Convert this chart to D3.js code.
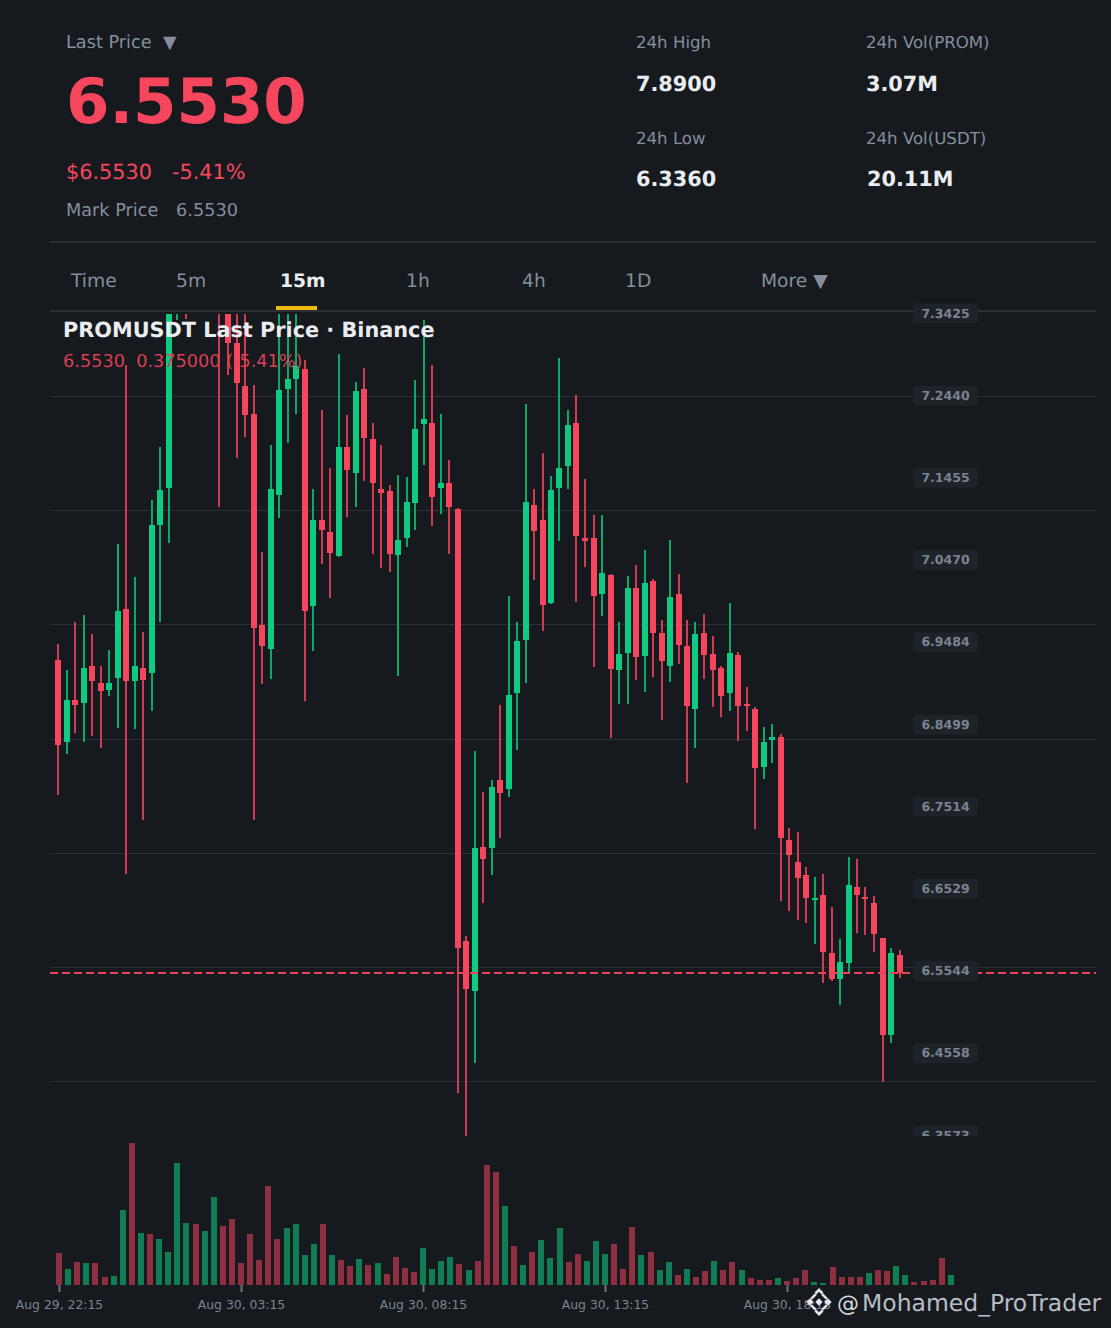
<!DOCTYPE html>
<html><head><meta charset="utf-8">
<script src="https://cdnjs.cloudflare.com/ajax/libs/d3/7.8.5/d3.min.js"></script>
<style>html,body{margin:0;padding:0;background:#161a1e;overflow:hidden}svg{display:block;font-family:"DejaVu Sans",sans-serif}</style>
</head><body><svg id="c" width="1111" height="1328"></svg>
<script>
// Candles: values. Those above 7.3425 are outside the visible window (estimates).
const opens=[6.927,6.828,6.879,6.875,6.919,6.899,6.891,6.905,6.988,6.901,6.917,6.911,7.088,7.133,7.420,7.480,7.430,7.510,7.560,7.450,7.390,7.307,7.255,7.221,6.969,6.940,7.124,7.251,7.263,7.275,6.991,7.094,7.080,7.051,7.182,7.151,7.251,7.191,7.132,7.129,7.052,7.073,7.115,7.209,7.211,7.133,7.139,7.108,6.590,6.530,6.702,6.701,6.783,6.772,6.887,6.951,7.112,7.094,6.995,7.133,7.159,7.211,7.073,7.073,7.006,7.028,6.915,6.935,7.013,6.931,7.021,6.959,6.920,7.006,6.943,6.868,6.959,6.934,6.917,6.887,6.933,6.874,6.868,6.798,6.831,6.834,6.711,6.684,6.669,6.639,6.645,6.575,6.544,6.563,6.654,6.642,6.635,6.593,6.477,6.573];
const highs=[6.946,6.915,6.972,6.981,6.958,6.920,6.939,7.066,7.280,7.026,6.960,7.118,7.182,7.460,7.520,7.530,7.560,7.600,7.590,7.480,7.410,7.360,7.350,7.256,7.056,7.184,7.370,7.360,7.355,7.286,7.132,7.226,7.157,7.293,7.220,7.260,7.277,7.211,7.184,7.136,7.148,7.146,7.262,7.334,7.280,7.222,7.166,7.109,6.596,6.818,6.768,6.783,6.873,7.003,6.972,7.233,7.132,7.175,7.147,7.288,7.226,7.244,7.144,7.100,7.100,7.030,6.972,7.027,7.041,7.058,7.024,6.975,7.070,7.030,6.975,6.972,6.982,6.955,6.920,6.995,6.936,6.894,6.870,6.846,6.850,6.838,6.725,6.720,6.678,6.667,6.670,6.631,6.592,6.690,6.688,6.654,6.644,6.594,6.581,6.579];
const lows=[6.765,6.814,6.839,6.828,6.836,6.821,6.883,6.845,6.670,6.844,6.735,6.865,6.972,7.067,7.334,7.335,7.400,7.460,7.420,7.110,7.268,7.169,7.194,6.735,6.898,6.904,7.097,7.187,7.221,6.878,6.937,7.042,7.001,7.050,7.098,7.110,7.141,7.054,7.037,7.032,6.907,7.062,7.082,7.160,7.087,7.102,7.054,6.408,6.356,6.444,6.635,6.669,6.713,6.762,6.819,6.899,7.023,6.961,6.994,7.069,7.132,6.996,7.038,6.918,6.979,6.833,6.874,6.874,6.903,6.888,6.906,6.855,6.900,6.922,6.779,6.821,6.904,6.870,6.858,6.865,6.830,6.842,6.724,6.784,6.803,6.638,6.626,6.615,6.611,6.586,6.539,6.542,6.513,6.553,6.599,6.597,6.577,6.421,6.468,6.545];
const closes=[6.825,6.879,6.873,6.917,6.901,6.890,6.899,6.985,6.901,6.920,6.903,7.088,7.130,7.420,7.470,7.430,7.510,7.560,7.450,7.390,7.307,7.259,7.220,6.965,6.943,7.132,7.250,7.263,7.279,6.985,7.094,7.082,7.055,7.182,7.154,7.249,7.193,7.139,7.127,7.054,7.070,7.116,7.203,7.215,7.122,7.139,7.110,6.582,6.532,6.701,6.688,6.774,6.767,6.885,6.949,7.116,7.081,6.992,7.130,7.157,7.208,7.075,7.069,7.003,7.031,6.916,6.934,7.013,6.930,7.019,6.959,6.925,7.002,6.945,6.872,6.958,6.933,6.915,6.883,6.935,6.872,6.872,6.797,6.828,6.834,6.713,6.693,6.665,6.641,6.641,6.577,6.544,6.565,6.657,6.645,6.640,6.598,6.477,6.575,6.551];
// Volume bars (own series; arbitrary read-off units) and their direction
const volumes=[96,48,69,66,66,24,27,225,426,156,153,138,99,366,186,183,162,264,177,198,66,153,75,297,138,171,183,90,123,183,90,75,57,78,60,66,33,84,51,39,111,48,72,84,63,45,72,360,339,237,117,60,99,135,81,171,69,93,72,132,93,123,48,174,90,99,45,69,30,48,24,42,72,45,69,45,21,15,15,21,12,21,45,9,6,54,24,24,24,36,45,42,57,30,9,12,15,81,30];
const volUpFlags=[0,1,0,1,0,0,1,1,0,1,0,1,1,1,1,0,1,1,0,0,0,0,0,0,0,1,1,1,1,0,1,0,0,1,0,1,0,0,0,0,1,1,1,1,0,1,0,0,0,1,0,1,0,1,1,1,0,0,1,1,1,0,0,0,1,0,1,1,0,1,0,0,1,0,0,1,0,0,0,1,0,0,0,1,1,0,0,0,0,1,0,0,1,1,0,0,0,0,1];
// Price axis, grid and time axis
const priceTicks=[7.3425,7.2440,7.1455,7.0470,6.9484,6.8499,6.7514,6.6529,6.5544,6.4558,6.3573];
const gridPrices=[7.243,7.1064,6.9697,6.8319,6.6953,6.5587,6.4220];
const lastPrice=6.5530;
const timeTicks=[new Date(2023,7,29,22,15),new Date(2023,7,30,3,15),new Date(2023,7,30,8,15),new Date(2023,7,30,13,15),new Date(2023,7,30,18,15)];
const timeLabels=["Aug 29, 22:15","Aug 30, 03:15","Aug 30, 08:15","Aug 30, 13:15","Aug 30, 18:15"];
const tabs=["Time","5m","15m","1h","4h","1D","More ▼"];

const BG="#161a1e",UP="#0ecb81",DOWN="#f6465d",GREY="#848e9c";
const svg=d3.select("#c");
svg.append("rect").attr("width",1111).attr("height",1328).attr("fill",BG);
const defs=svg.append("defs");
defs.append("clipPath").attr("id","plot").append("rect").attr("x",50).attr("y",314).attr("width",1046).attr("height",822);
defs.append("clipPath").attr("id","axisclip").append("rect").attr("x",900).attr("y",296).attr("width",100).attr("height",840);

const y=d3.scaleLinear().domain([7.3425,6.3573]).range([313,1135]);
const xC=d3.scaleLinear().domain([0,99]).range([58,899.5]);
const xT=d3.scaleTime().domain([timeTicks[0],timeTicks[4]]).range([59,787]);
const vStart=+timeTicks[0];
const xV=i=>xT(new Date(vStart+i*15*60000));
const yV=d3.scaleLinear().domain([0,426]).range([1285,1143]);

function t(x,yy,s,size,fill,anchor){return svg.append("text").attr("x",x).attr("y",yy).text(s).attr("font-size",size).attr("fill",fill).attr("text-anchor",anchor||"start").attr("xml:space","preserve").attr("text-rendering","geometricPrecision");}
function b(x,yy,s,size,fill){return t(x,yy,s,size,fill).attr("font-weight","bold");}
t(66,48,"Last Price",17.7,GREY); t(163,48,"▼",17.7,GREY);
b(66,122.5,"6.5530",62.4,DOWN);
t(66,179,"$6.5530",20.8,DOWN); t(172,179,"-5.41%",20.8,DOWN);
t(66,216,"Mark Price",17.7,GREY); t(176,216,"6.5530",17.7,GREY);
t(636,48,"24h High",16.6,GREY); b(636,91,"7.8900",20.8,"#eaecef");
t(636,144,"24h Low",16.6,GREY); b(636,186,"6.3360",20.8,"#eaecef");
t(866,48,"24h Vol(PROM)",16.6,GREY); b(866,91,"3.07M",20.8,"#eaecef");
t(866,144,"24h Vol(USDT)",16.6,GREY); b(867,186,"20.11M",20.8,"#eaecef");
svg.append("line").attr("x1",50).attr("x2",1096).attr("y1",242).attr("y2",242).attr("stroke","#2b2f36").attr("stroke-width",2);

const tabX=[71,176,280,406,522,625,761];
tabs.forEach((s,i)=>{ if(i==2) b(tabX[i],287,s,18.7,"#eaecef"); else t(tabX[i],287,s,18.7,GREY); });
svg.append("rect").attr("x",276).attr("y",306).attr("width",41).attr("height",4).attr("fill","#f0b90b");
svg.append("line").attr("x1",50).attr("x2",1096).attr("y1",311).attr("y2",311).attr("stroke","#2b2f36").attr("stroke-width",2);

// grid
svg.append("g").selectAll("line").data(gridPrices).join("line")
 .attr("x1",50).attr("x2",1096).attr("y1",d=>Math.round(y(d))+.5).attr("y2",d=>Math.round(y(d))+.5)
 .attr("stroke","#2b2f36").attr("stroke-width",1);

// candles
const idx=d3.range(opens.length);
const pl=svg.append("g").attr("clip-path","url(#plot)");
pl.append("g").selectAll("line").data(idx).join("line")
 .attr("x1",i=>Math.round(xC(i))).attr("x2",i=>Math.round(xC(i))).attr("y1",i=>Math.round(y(highs[i]))).attr("y2",i=>Math.round(y(lows[i])))
 .attr("stroke",i=>closes[i]>=opens[i]?"#0aa86b":"#cf3b50").attr("stroke-width",2);
pl.append("g").selectAll("rect").data(idx).join("rect")
 .attr("x",i=>Math.round(xC(i))-3).attr("width",6)
 .attr("y",i=>Math.round(y(Math.max(opens[i],closes[i]))))
 .attr("height",i=>Math.max(2,Math.round(y(Math.min(opens[i],closes[i])))-Math.round(y(Math.max(opens[i],closes[i])))))
 .attr("fill",i=>closes[i]>=opens[i]?UP:DOWN);

// last price line
const yLast=Math.round(y(lastPrice))+1;
svg.append("line").attr("x1",50).attr("x2",1096).attr("y1",yLast).attr("y2",yLast)
 .attr("stroke","#ea4259").attr("stroke-width",2).attr("stroke-dasharray","8 4");

// overlay text
b(63,337,"PROMUSDT Last Price · Binance",20.8,"#eaecef");
t(63,367,"6.5530  0.375000 (-5.41%)",17.7,"#dc3f55");

// price axis
const ax=svg.append("g").attr("clip-path","url(#axisclip)").append("g").attr("transform","translate(913,0)")
 .call(d3.axisRight(y).tickValues(priceTicks).tickFormat(d3.format(".4f")).tickSize(0));
ax.select(".domain").remove();
ax.selectAll(".tick").insert("rect","text").attr("x",0).attr("y",-10).attr("width",65).attr("height",20).attr("rx",4).attr("fill","#1e2329");
ax.selectAll(".tick text").attr("x",32.5).attr("text-anchor","middle").attr("fill","#7c8390").attr("font-weight","bold").attr("font-size",12.5).attr("font-family","DejaVu Sans").attr("text-rendering","geometricPrecision");

// volume
svg.append("g").selectAll("rect").data(volumes).join("rect")
 .attr("x",(d,i)=>Math.round(xV(i))-3).attr("width",6).attr("y",d=>Math.round(yV(d))).attr("height",d=>yV(0)-Math.round(yV(d)))
 .attr("fill",(d,i)=>volUpFlags[i]?"#117d55":"#8e3040");

// time axis
const tx=svg.append("g").attr("transform","translate(0,1285)")
 .call(d3.axisBottom(xT).tickValues(timeTicks).tickFormat((d,i)=>timeLabels[i]).tickSize(7).tickPadding(8));
tx.select(".domain").remove();
tx.selectAll(".tick line").attr("stroke","#6b7280").attr("stroke-width",2);
tx.selectAll(".tick text").attr("fill","#7b838f").attr("font-size",12.4).attr("font-family","DejaVu Sans");

// watermark
const logo=svg.append("g").attr("transform","translate(819,1302)").attr("fill","#e4e6ea");
[[0,-14,4.5,-9.5,2.6,-7.6,0,-10.2,-2.6,-7.6,-4.5,-9.5],[0,14,4.5,9.5,2.6,7.6,0,10.2,-2.6,7.6,-4.5,9.5]].forEach(p=>logo.append("polygon").attr("points",p.join(",")));
[[-9,0],[9,0],[0,0]].forEach(c=>logo.append("rect").attr("x",c[0]-2.6).attr("y",-2.6).attr("width",5.2).attr("height",5.2).attr("transform",`rotate(45 ${c[0]} 0)`));
[[-5.5,-5.5],[5.5,-5.5],[-5.5,5.5],[5.5,5.5]].forEach(c=>logo.append("rect").attr("x",c[0]-3.4).attr("y",c[1]-1.2).attr("width",6.8).attr("height",2.4).attr("transform",`rotate(${c[0]*c[1]>0?-45:45} ${c[0]} ${c[1]})`));
t(837,1311,"@",22,"#d5d8dc");
t(862,1311,"Mohamed_ProTrader",23.5,"#b9bdc4");
</script></body></html>
